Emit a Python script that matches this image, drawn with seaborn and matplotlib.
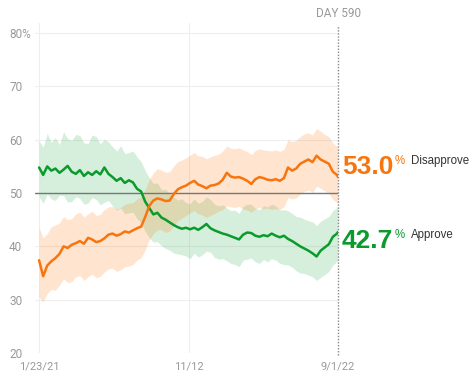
import pandas as pd
import matplotlib.pyplot as plt
import seaborn as sns

# days since 1/23/21, values every 8 days
days = list(range(0, 585, 8)) + [586]
approve = [54.8, 53.4, 55.0, 54.2, 54.6, 53.8, 54.4, 55.1, 54.0, 53.6,
           54.3, 53.2, 53.9, 53.4, 54.1, 53.5, 54.8, 53.6, 53.0, 52.3,
           52.8, 51.9, 52.4, 52.0, 50.8, 50.3, 48.4, 47.2, 46.0, 46.3,
           45.4, 45.0, 44.5, 44.0, 43.6, 43.3, 43.5, 43.2, 43.5, 43.1,
           43.6, 44.2, 43.4, 43.0, 42.7, 42.4, 42.2, 41.9, 41.6, 41.3,
           42.2, 42.6, 42.5, 42.0, 41.8, 42.1, 41.9, 42.4, 42.0, 41.7,
           42.0, 41.4, 41.0, 40.5, 40.0, 39.6, 39.2, 38.7, 38.1, 39.2,
           39.8, 40.4, 41.8, 42.4, 42.7]
disapprove = [37.4, 34.4, 36.4, 37.2, 37.8, 38.6, 40.0, 39.7, 40.3, 40.6,
              41.0, 40.5, 41.6, 41.3, 40.8, 41.0, 41.5, 42.2, 42.4, 42.0,
              42.3, 42.8, 42.6, 43.0, 43.4, 43.7, 45.5, 47.6, 48.6, 49.0,
              48.8, 48.5, 48.6, 49.8, 50.7, 51.1, 51.4, 51.9, 52.3, 51.6,
              51.3, 50.9, 51.4, 51.5, 51.8, 52.5, 53.8, 53.1, 52.9, 53.0,
              52.7, 52.3, 51.7, 52.6, 53.0, 52.8, 52.5, 52.4, 52.6, 52.3,
              52.8, 54.8, 54.2, 54.6, 55.5, 55.9, 56.3, 55.8, 57.0, 56.3,
              55.9, 55.5, 54.0, 53.4, 53.0]

# uncertainty bands
approve_hi = [59.8, 58.6, 61.2, 59.5, 60.4, 59.1, 61.5, 60.2, 59.9, 61.0,
              60.8, 59.4, 59.3, 60.9, 60.6, 59.2, 60.1, 59.6, 58.7, 57.9,
              58.9, 57.4, 57.6, 57.9, 56.8, 55.9, 54.2, 52.9, 51.8, 51.9,
              50.6, 50.7, 49.9, 49.2, 48.7, 48.9, 48.2, 48.0, 48.9, 48.1,
              48.4, 49.3, 48.8, 47.9, 47.6, 47.8, 47.2, 46.7, 46.8, 46.2,
              47.5, 47.9, 47.9, 47.1, 46.9, 47.6, 47.4, 47.9, 47.6, 46.8,
              46.9, 46.7, 46.2, 45.6, 45.5, 45.1, 44.8, 44.6, 43.9, 44.7,
              45.2, 45.6, 46.7, 47.3, 47.6]
approve_lo = [49.3, 48.1, 49.8, 48.9, 48.6, 49.6, 49.5, 48.3, 48.4, 49.3,
              49.0, 47.9, 48.1, 49.2, 48.8, 47.8, 48.3, 48.6, 47.6, 46.8,
              47.2, 46.1, 46.3, 46.4, 45.2, 44.5, 42.8, 41.6, 40.8, 40.9,
              40.1, 39.6, 39.3, 38.7, 38.6, 38.4, 38.2, 37.7, 38.7, 38.0,
              38.4, 39.1, 38.9, 37.9, 37.6, 37.7, 37.3, 36.8, 36.6, 36.2,
              37.4, 37.6, 37.8, 37.1, 36.8, 37.5, 37.1, 37.7, 37.4, 36.8,
              36.6, 36.5, 36.1, 35.4, 35.0, 34.9, 34.6, 34.3, 33.6, 34.2,
              34.7, 35.3, 36.5, 37.2, 37.6]
disapprove_hi = [43.5, 41.6, 42.4, 43.7, 44.0, 44.4, 45.6, 45.0, 45.2, 46.1,
                 46.4, 45.5, 46.1, 46.6, 45.8, 46.0, 46.9, 47.4, 47.5, 47.0,
                 47.3, 47.9, 48.1, 48.2, 48.9, 49.3, 50.6, 52.6, 53.8, 54.6,
                 54.3, 53.9, 54.0, 55.1, 55.9, 56.2, 56.6, 57.1, 57.6, 57.0,
                 56.9, 56.4, 56.8, 57.1, 57.3, 57.9, 58.8, 58.4, 58.3, 58.5,
                 58.1, 57.8, 57.2, 58.0, 58.3, 58.1, 58.0, 57.9, 58.1, 57.8,
                 58.2, 60.0, 59.6, 59.9, 60.6, 61.1, 61.3, 60.9, 62.1, 61.6,
                 61.0, 60.6, 59.4, 58.7, 58.4]
disapprove_lo = [30.5, 29.6, 31.2, 31.9, 31.8, 32.7, 33.9, 33.2, 33.4, 34.3,
                 34.5, 33.6, 34.3, 34.8, 34.1, 34.4, 35.2, 35.8, 35.9, 35.3,
                 35.6, 36.2, 36.3, 36.6, 37.4, 37.9, 39.3, 41.3, 42.4, 43.1,
                 43.1, 42.6, 42.9, 43.9, 44.8, 45.3, 45.8, 46.3, 46.7, 46.1,
                 45.9, 45.4, 45.8, 46.2, 46.6, 46.9, 47.6, 47.4, 47.3, 47.5,
                 47.0, 46.8, 46.4, 47.0, 47.3, 47.1, 47.2, 46.9, 47.1, 46.9,
                 47.4, 49.2, 48.9, 49.1, 49.8, 50.3, 50.6, 50.1, 51.3, 50.9,
                 50.4, 49.9, 48.8, 48.2, 48.0]

yticks = [20, 30, 40, 50, 60, 70, 80]
ylabels = ["20", "30", "40", "50", "60", "70", "80%"]
xtick_dates = ["2021-01-23", "2021-11-12", "2022-09-01"]
xlabels = ["1/23/21", "11/12", "9/1/22"]

GREEN = "#0a9b2c"
ORANGE = "#f7750f"

start = pd.Timestamp("2021-01-23")
df = pd.DataFrame({"date": start + pd.to_timedelta(days, unit="D"),
                   "Approve": approve, "Disapprove": disapprove,
                   "a_hi": approve_hi, "a_lo": approve_lo,
                   "d_hi": disapprove_hi, "d_lo": disapprove_lo})

sns.set_theme(style="white")
plt.rcParams["font.family"] = ["Roboto", "DejaVu Sans"]

fig = plt.figure(figsize=(4.74, 3.79), dpi=100)
ax = fig.add_axes([35 / 474, 1 - 353 / 379, 303 / 474, 330 / 379])

ax.fill_between(df["date"], df["a_lo"], df["a_hi"], color="#009F29", alpha=0.16, lw=0)
ax.fill_between(df["date"], df["d_lo"], df["d_hi"], color="#FF7400", alpha=0.19, lw=0)
ax.axhline(50, color="#777777", lw=1, zorder=2)
sns.lineplot(data=df, x="date", y="Approve", color=GREEN, lw=1.8, ax=ax, zorder=3)
sns.lineplot(data=df, x="date", y="Disapprove", color=ORANGE, lw=1.8, ax=ax, zorder=3)

ax.set_xlim(start - pd.Timedelta(days=8), pd.Timestamp("2022-09-01"))
ax.set_ylim(20, 81.9)
ax.set_yticks(yticks)
ax.set_yticklabels(ylabels)
ax.set_xticks(pd.to_datetime(xtick_dates))
ax.set_xticklabels(xlabels)
for lab in ax.get_yticklabels():
    lab.set_horizontalalignment("left")
ax.tick_params(axis="y", length=0, pad=18.7, labelsize=8.5, colors="#999999")
ax.tick_params(axis="x", length=0, pad=6, labelsize=8, colors="#999999")
ax.grid(True, color="#eeeeee", lw=0.8)
ax.set_xlabel("")
ax.set_ylabel("")
sns.despine(ax=ax, left=True, bottom=True)

# today marker
ax.axvline(pd.Timestamp("2022-09-01"), ymin=-0.006, ymax=0.994, color="#888888",
           lw=1, ls=(0, (1, 1.2)), clip_on=False, zorder=4)
fig.text(338 / 474, 1 - 17 / 379, "DAY 590", ha="center", va="baseline",
         fontsize=8.5, color="#999999")

# end labels
big = dict(family="Liberation Sans", fontweight="bold", fontsize=19, va="baseline")
small = dict(family="Liberation Sans", fontsize=8.3, va="baseline")
fig.text(342 / 474, 1 - 174 / 379, f"{disapprove[-1]:.1f}", color=ORANGE, **big)
fig.text(395 / 474, 1 - 164 / 379, "%", color=ORANGE, **small)
fig.text(411 / 474, 1 - 164 / 379, "Disapprove", color="#333333", **small)
fig.text(342 / 474, 1 - 248 / 379, f"{approve[-1]:.1f}", color=GREEN, **big)
fig.text(395 / 474, 1 - 238 / 379, "%", color=GREEN, **small)
fig.text(411 / 474, 1 - 238 / 379, "Approve", color="#333333", **small)

fig.savefig("out.png", dpi=100)
